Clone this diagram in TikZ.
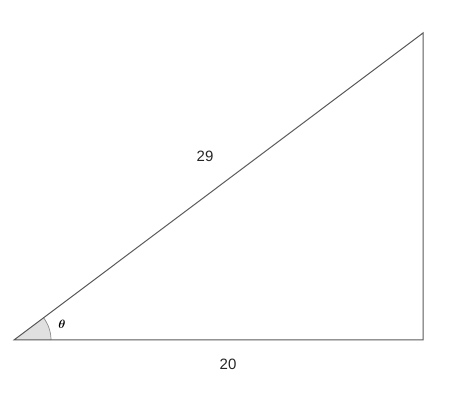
\documentclass[tikz,border=0pt]{standalone}
\usepackage{amsmath,bm}
\usepackage{fontspec}
\setmainfont{Liberation Sans}
\usetikzlibrary{calc}

\begin{document}
\begin{tikzpicture}[x=1pt,y=1pt,
        seite/.style={draw=black!65,line width=1pt},
        winkel/.style={fill=black!12,draw=black!45,line width=0.7pt},
        zahl/.style={font=\fontsize{15}{17}\selectfont,text=black!85}]
      \useasboundingbox (0,0) rectangle (474,415);
      \coordinate (A) at (14,75);
      \coordinate (B) at (423,75);
      \coordinate (C) at (423,382);
      \fill[winkel,draw=none] (A) -- ++(37,0) arc[start angle=0,end angle=36.9,radius=37] -- cycle;
      \draw[winkel,fill=none] ($(A)+(37,0)$) arc[start angle=0,end angle=36.9,radius=37];
      \draw[seite] (A) -- (B) -- (C) -- cycle;
      \node [zahl] (hyp)  at (205,259) {29};
      \node [zahl] (ank)  at (228,51)  {20};
      \node [font=\fontsize{12}{14}\selectfont] (theta) at (62,91) {$\bm{\theta}$};
    \end{tikzpicture}
\end{document}
